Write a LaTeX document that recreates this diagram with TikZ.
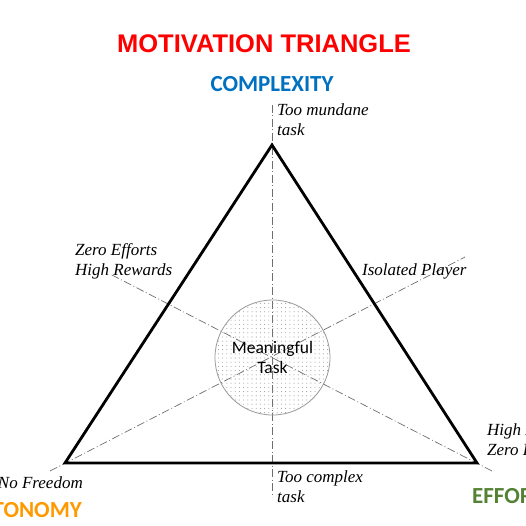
\documentclass[tikz,border=0pt]{standalone}
\usepackage{fontspec}
\setmainfont{Liberation Serif}
\newfontfamily\calibrifont{Carlito}
\newfontfamily\arialfont{Liberation Sans}
\usetikzlibrary{patterns}
\definecolor{titleRed}{RGB}{255,0,0}
\definecolor{cornerBlue}{RGB}{0,112,192}
\definecolor{cornerOrange}{RGB}{255,153,0}
\definecolor{cornerGreen}{RGB}{84,130,53}
\definecolor{axisGray}{RGB}{110,110,110}
\pgfdeclarepatternformonly{sparse dots}{\pgfqpoint{-1pt}{-1pt}}{\pgfqpoint{1pt}{1pt}}{\pgfqpoint{4.2pt}{4.2pt}}{%
  \pgfpathcircle{\pgfqpoint{0pt}{0pt}}{0.55pt}\pgfusepath{fill}}
\tikzset{
  side/.style={draw=black, line width=2.8pt, line join=miter},
  axis/.style={draw=axisGray, line width=0.7pt, dash pattern=on 8pt off 2.5pt on 1pt off 2.5pt},
  caseLabel/.style={font=\fontsize{17}{20}\selectfont\itshape, align=left, inner sep=0pt},
  corner/.style={font=\calibrifont\bfseries\fontsize{23}{26}\selectfont, inner sep=0pt},
  core/.style={circle, draw=gray!80, line width=0.8pt, pattern=sparse dots, pattern color=gray!75, minimum size=115pt, inner sep=0pt, align=center, font=\calibrifont\fontsize{17.5}{20}\selectfont}
}
\begin{document}
\begin{tikzpicture}[x=1pt,y=-1pt]
        \useasboundingbox (0,0) rectangle (526,526);
        % triangle corners and axis ends
        \coordinate (top) at (272,145);
        \coordinate (left) at (65,463);
        \coordinate (right) at (477,463);
        \coordinate (axisTop) at (272,105);
        \coordinate (axisBottom) at (272,497);
        \coordinate (axisLeftLow) at (50,471);
        \coordinate (axisRightHigh) at (465,257);
        \coordinate (axisRightLow) at (492,471);
        \coordinate (axisLeftHigh) at (110,274);
        \draw[axis] (axisTop) -- (axisBottom);
        \draw[axis] (axisLeftLow) -- (axisRightHigh);
        \draw[axis] (axisRightLow) -- (axisLeftHigh);
        \draw[side] (top) -- (left) -- (right) -- cycle;
        \node[core] (task) at (272.5,357.5) {Meaningful\\Task};
        % titles
        \node[font=\arialfont\bfseries\fontsize{25.5}{28}\selectfont, text=titleRed, inner sep=0pt, anchor=base] (title) at (264,53) {MOTIVATION TRIANGLE};
        \node[corner, text=cornerBlue, anchor=base] (complexity) at (272,92) {COMPLEXITY};
        \node[corner, text=cornerOrange, anchor=base east] (autonomy) at (82,517) {AUTONOMY};
        \node[corner, text=cornerGreen, anchor=base west] (effort) at (472,503) {EFFORT};
        % cases (base = last line)
        \node[caseLabel, anchor=base west] (mundane) at (277,136) {Too mundane\\task};
        \node[caseLabel, anchor=base west] (complex) at (277,502) {Too complex\\task};
        \node[caseLabel, anchor=base west] (zeroEff) at (75,275) {Zero Efforts\\High Rewards};
        \node[caseLabel, anchor=base west] (isolated) at (362,275) {Isolated Player};
        \node[caseLabel, anchor=base west] (highEff) at (487,455) {High Efforts\\Zero Rewards};
        \node[caseLabel, anchor=base east] (noFree) at (83,488) {No Freedom};
      \end{tikzpicture}
\end{document}
